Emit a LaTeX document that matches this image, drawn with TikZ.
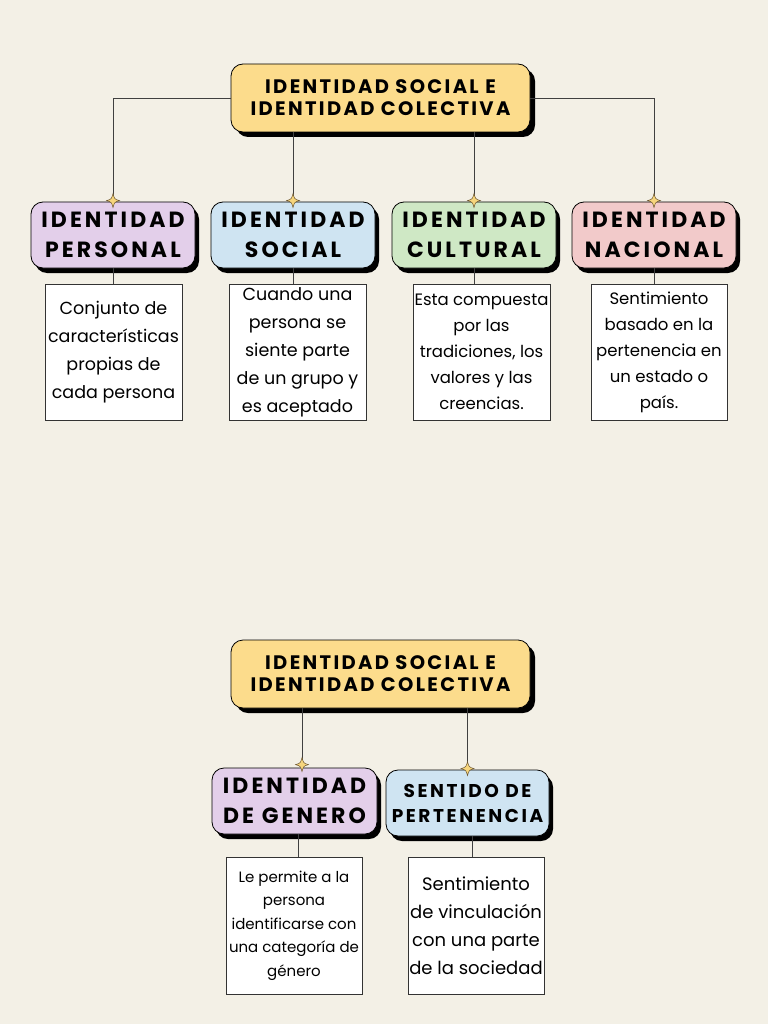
\documentclass[tikz,border=0pt]{standalone}
\usepackage{fontspec}
\setmainfont{Poppins}
\newfontfamily\headfont{Poppins}[LetterSpace=14]
\newfontfamily\titlefont{Poppins}[LetterSpace=12]
\usetikzlibrary{shadows,calc}
\definecolor{bgc}{HTML}{F3F0E6}
\definecolor{yellowc}{HTML}{FCDC8C}
\definecolor{lavc}{HTML}{E3CFEA}
\definecolor{bluec}{HTML}{CFE4F2}
\definecolor{greenc}{HTML}{CFE8C5}
\definecolor{pinkc}{HTML}{F2CACA}
\definecolor{starc}{HTML}{F6D57C}
\definecolor{starline}{HTML}{6B5530}
\tikzset{
  mainbox/.style={draw=black, line width=0.8pt, rounded corners=12pt, fill=yellowc,
    minimum width=299pt, minimum height=68pt, align=center, inner sep=0pt,
    general shadow={fill=black, shadow xshift=5pt, shadow yshift=-5pt},
    font=\titlefont\bfseries\fontsize{19.5}{22}\selectfont},
  catbox/.style={draw=black, line width=0.8pt, rounded corners=12pt,
    minimum width=164pt, minimum height=66pt, align=center, inner sep=0pt,
    general shadow={fill=black, shadow xshift=4pt, shadow yshift=-5pt},
    font=\headfont\bfseries\fontsize{22}{30}\selectfont},
  detbox/.style={draw=black!80, line width=0.6pt, fill=white, minimum width=137pt,
    minimum height=136pt, align=center, inner sep=0pt},
  conn/.style={draw=black!75, line width=0.6pt},
  sparkle/.pic={\path[fill=starc, draw=starline, line width=0.5pt]
    (0,-7) .. controls (1.5,-1.5) .. (6.5,0) .. controls (1.5,1.5) .. (0,7)
    .. controls (-1.5,1.5) .. (-6.5,0) .. controls (-1.5,-1.5) .. cycle;}
}
\begin{document}
\begin{tikzpicture}[x=1pt,y=-1pt]
\fill[bgc] (0,0) rectangle (768,1024);
\useasboundingbox (0,0) rectangle (768,1024);

% ---- top diagram ----
\node[mainbox] (t1) at (380.5,98) {IDENTIDAD SOCIAL E\\IDENTIDAD COLECTIVA};
\node[catbox, fill=lavc] (pers) at (113,235) {IDENTIDAD\\PERSONAL};
\node[catbox, fill=bluec] (soc) at (293,235) {IDENTIDAD\\SOCIAL};
\node[catbox, fill=greenc] (cult) at (474,235) {IDENTIDAD\\CULTURAL};
\node[catbox, fill=pinkc] (nac) at (654,235) {IDENTIDAD\\NACIONAL};

\node[detbox, font=\fontsize{17.5}{28}\selectfont] (d1) at (113.5,352)
  {Conjunto de\\características\\propias de\\cada persona};
\node[detbox, font=\fontsize{17.5}{28}\selectfont] (d2) at (297.5,352)
  {Cuando una\\persona se\\siente parte\\de un grupo y\\es aceptado};
\node[detbox, font=\fontsize{16.5}{26}\selectfont] (d3) at (481.5,352)
  {Esta compuesta\\por las\\tradiciones, los\\valores y las\\creencias.};
\node[detbox, minimum width=136pt, font=\fontsize{16.5}{26}\selectfont] (d4) at (659,352)
  {Sentimiento\\basado en la\\pertenencia en\\un estado o\\país.};

\draw[conn] (t1.west) -| (pers.north);
\draw[conn] (t1.south -| soc.north) -- (soc.north);
\draw[conn] (t1.south -| cult.north) -- (cult.north);
\draw[conn] (t1.east) -| (nac.north);
\draw[conn] (pers.south) -- (pers.south |- d1.north);
\draw[conn] (soc.south) -- (soc.south |- d2.north);
\draw[conn] (cult.south) -- (cult.south |- d3.north);
\draw[conn] (nac.south) -- (nac.south |- d4.north);
\pic at ([yshift=1pt]pers.north) {sparkle};
\pic at ([yshift=1pt]soc.north) {sparkle};
\pic at ([yshift=1pt]cult.north) {sparkle};
\pic at ([yshift=1pt]nac.north) {sparkle};

% ---- bottom diagram ----
\node[mainbox] (t2) at (380.5,674) {IDENTIDAD SOCIAL E\\IDENTIDAD COLECTIVA};
\node[catbox, fill=lavc, minimum width=165pt] (gen) at (294.5,801) {IDENTIDAD\\DE GENERO};
\node[catbox, fill=bluec, minimum width=163pt, font=\headfont\bfseries\fontsize{18.5}{25}\selectfont]
  (pert) at (467.5,803) {SENTIDO DE\\PERTENENCIA};
\node[detbox, minimum width=136pt, minimum height=137pt, font=\fontsize{15}{23.5}\selectfont] (d5) at (294,925.5)
  {Le permite a la\\persona\\identificarse con\\una categoría de\\género};
\node[detbox, minimum width=136pt, minimum height=137pt, font=\fontsize{18}{28}\selectfont] (d6) at (476,925.5)
  {Sentimiento\\de vinculación\\con una parte\\de la sociedad};

\coordinate (genin) at ([xshift=7.5pt,yshift=3pt]gen.north);
\draw[conn] (t2.south -| genin) -- (genin);
\draw[conn] (t2.south -| pert.north) -- (pert.north);
\draw[conn] ([xshift=3.5pt]gen.south) -- ([xshift=3.5pt]gen.south |- d5.north);
\draw[conn] ([xshift=4.5pt]pert.south) -- ([xshift=4.5pt]pert.south |- d6.north);
\pic at (genin) {sparkle};
\pic at ([yshift=1pt]pert.north) {sparkle};
\end{tikzpicture}
\end{document}
